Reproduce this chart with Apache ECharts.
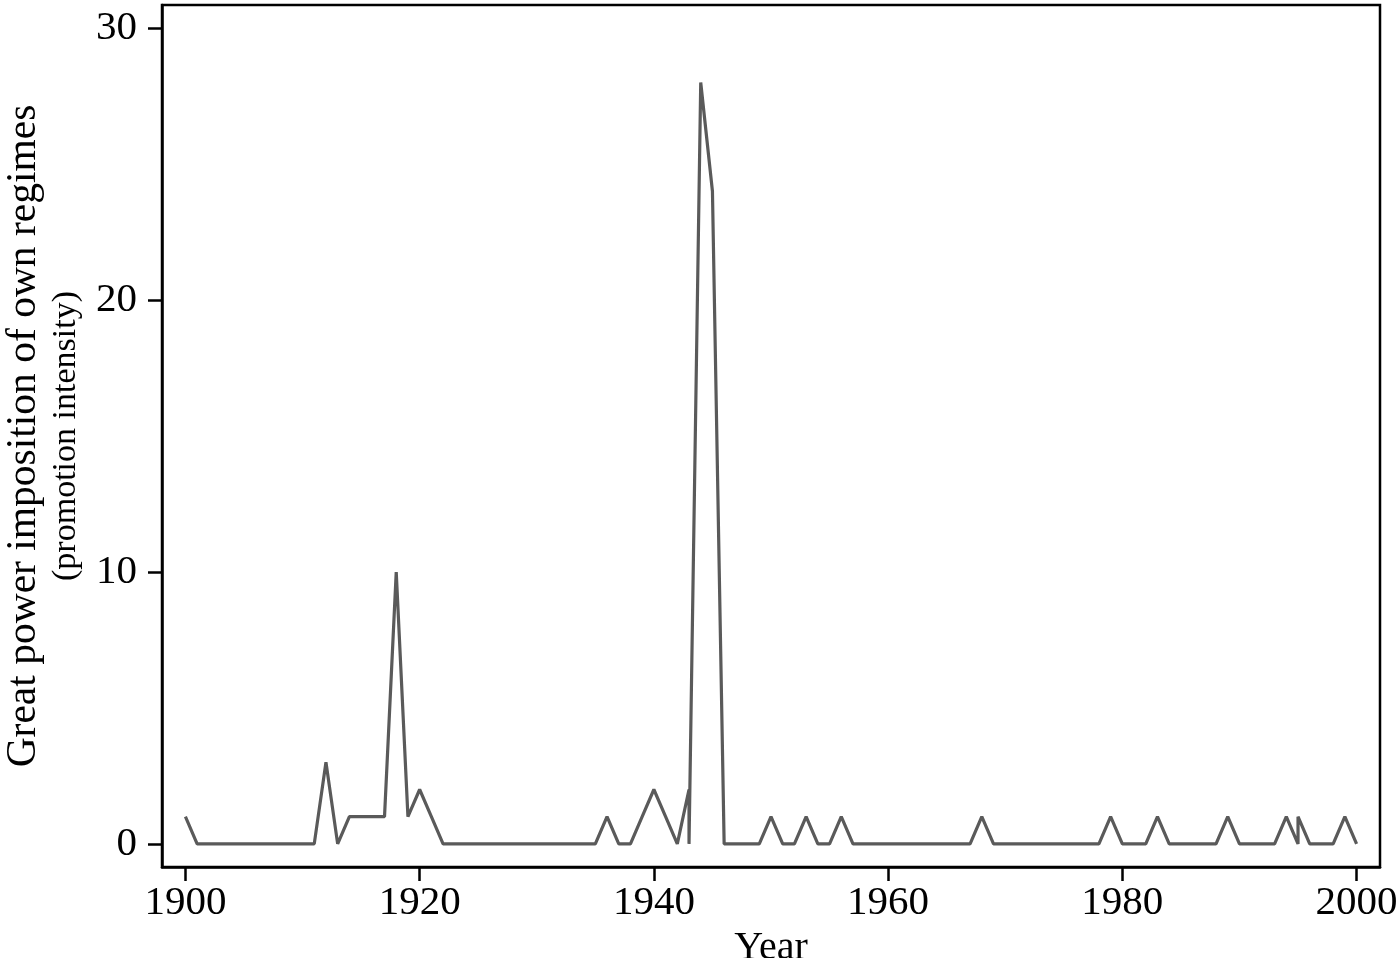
<!DOCTYPE html>
<html>
<head>
<meta charset="utf-8">
<script src="https://cdn.jsdelivr.net/npm/echarts@6/dist/echarts.min.js"></script>
<style>
    html, body {margin: 0; padding: 0; background: #fff;}
    #chart {width: 1400px; height: 958px;}
</style>
</head>
<body>
<div id="chart"></div>
<script>
// 年份（1943 和 1995 各出现两次，原图就是这样画的）
var years = [
    1900, 1901, 1902, 1903, 1904, 1905, 1906, 1907, 1908, 1909,
    1910, 1911, 1912, 1913, 1914, 1915, 1916, 1917, 1918, 1919,
    1920, 1921, 1922, 1923, 1924, 1925, 1926, 1927, 1928, 1929,
    1930, 1931, 1932, 1933, 1934, 1935, 1936, 1937, 1938, 1939,
    1940, 1941, 1942, 1943, 1943, 1944, 1945, 1946, 1947, 1948, 1949,
    1950, 1951, 1952, 1953, 1954, 1955, 1956, 1957, 1958, 1959,
    1960, 1961, 1962, 1963, 1964, 1965, 1966, 1967, 1968, 1969,
    1970, 1971, 1972, 1973, 1974, 1975, 1976, 1977, 1978, 1979,
    1980, 1981, 1982, 1983, 1984, 1985, 1986, 1987, 1988, 1989,
    1990, 1991, 1992, 1993, 1994, 1995, 1995, 1996, 1997, 1998, 1999,
    2000
];
var values = [
    1, 0, 0, 0, 0, 0, 0, 0, 0, 0,
    0, 0, 3, 0, 1, 1, 1, 1, 10, 1,
    2, 1, 0, 0, 0, 0, 0, 0, 0, 0,
    0, 0, 0, 0, 0, 0, 1, 0, 0, 1,
    2, 1, 0, 2, 0, 28, 24, 0, 0, 0, 0,
    1, 0, 0, 1, 0, 0, 1, 0, 0, 0,
    0, 0, 0, 0, 0, 0, 0, 0, 1, 0,
    0, 0, 0, 0, 0, 0, 0, 0, 0, 1,
    0, 0, 0, 1, 0, 0, 0, 0, 0, 1,
    0, 0, 0, 0, 1, 0, 1, 0, 0, 0, 1,
    0
];
var xTicks = [1900, 1920, 1940, 1960, 1980, 2000];
var yTicks = [0, 10, 20, 30];

var FONT = '"Liberation Serif", "DejaVu Serif", serif';

var chart = echarts.init(document.getElementById('chart'));

var seriesData = years.map(function (y, i) {
    return [y, values[i]];
});

chart.setOption({
    animation: false,
    backgroundColor: '#fff',
    grid: {
        left: 162,
        right: 20,
        top: 5,
        bottom: 91,
        containLabel: false,
        outerBoundsMode: 'none',
        show: true,
        borderColor: '#000',
        borderWidth: 2.5
    },
    xAxis: {
        type: 'value',
        min: 1898,
        max: 2002,
        name: 'Year',
        nameLocation: 'middle',
        nameGap: 48,
        nameTextStyle: {fontFamily: FONT, fontSize: 40, color: '#000'},
        splitLine: {show: false},
        axisLine: {show: true, onZero: false, lineStyle: {color: '#000', width: 2.5}},
        axisTick: {show: true, length: 14, lineStyle: {color: '#000', width: 2.5}, customValues: xTicks},
        axisLabel: {
            fontFamily: FONT, fontSize: 41, color: '#000', margin: 16,
            customValues: xTicks,
            formatter: function (v) { return String(v); }
        }
    },
    yAxis: {
        type: 'value',
        min: -0.85,
        max: 30.85,
        name: '{a|Great power imposition of own regimes}\n{b|(promotion intensity)}',
        nameLocation: 'middle',
        nameGap: 76,
        nameTextStyle: {
            fontFamily: FONT,
            color: '#000',
            align: 'center',
            rich: {
                a: {fontFamily: FONT, fontSize: 41.5, lineHeight: 44, color: '#000'},
                b: {fontFamily: FONT, fontSize: 34, lineHeight: 40, color: '#000'}
            }
        },
        splitLine: {show: false},
        axisLine: {show: true, onZero: false, lineStyle: {color: '#000', width: 2.5}},
        axisTick: {show: true, length: 14, lineStyle: {color: '#000', width: 2.5}, customValues: yTicks},
        axisLabel: {
            fontFamily: FONT, fontSize: 41, color: '#000', margin: 25,
            customValues: yTicks,
            formatter: function (v) { return String(v); }
        }
    },
    series: [
        {
            type: 'line',
            data: seriesData,
            symbol: 'none',
            lineStyle: {color: '#5a5a5a', width: 3.2},
            z: 3
        }
    ]
});
</script>
</body>
</html>
